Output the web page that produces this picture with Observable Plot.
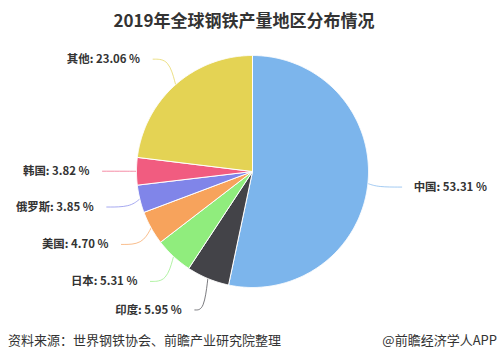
<!DOCTYPE html>
<html>
<head>
<meta charset="utf-8">
<script src="https://cdn.jsdelivr.net/npm/d3@7"></script>
<script src="https://cdn.jsdelivr.net/npm/@observablehq/plot@0.6"></script>
<style>
  html, body { margin: 0; padding: 0; background: #fff; }
  body { width: 500px; height: 360px; position: relative; overflow: hidden; font-family: "Noto Sans CJK SC", "Noto Sans", sans-serif; }
  #title { position: absolute; left: 0; top: 8px; width: 488px; text-align: center; font-size: 17px; font-weight: bold; color: #333; line-height: 24px; }
  #chart { position: absolute; left: 0; top: 38px; }
  #source { position: absolute; left: 8px; top: 330px; font-size: 13px; color: #333; line-height: 20px; }
  #brand { position: absolute; right: 3px; top: 330px; font-size: 13px; color: #333; line-height: 20px; }
</style>
</head>
<body>
<div id="title">2019年全球钢铁产量地区分布情况</div>
<div id="chart"></div>
<div id="source">资料来源：世界钢铁协会、前瞻产业研究院整理</div>
<div id="brand">@前瞻经济学人APP</div>
<script>
// Data
const regions = ["中国", "印度", "日本", "美国", "俄罗斯", "韩国", "其他"];
const shares = [53.31, 5.95, 5.31, 4.70, 3.85, 3.82, 23.06];
const palette = ["#7cb5ec", "#434348", "#90ed7d", "#f7a35c", "#8085e9", "#f15c80", "#e4d354"];

// Geometry (layout)
const W = 500, H = 290;
const cx = 252, cy = 133, r = 116, rl = 150;
const total = d3.sum(shares);
const pt = (a, rad) => [cx + rad * Math.sin(a), cy - rad * Math.cos(a)];

const slicePts = [];
const labels = [];
const connectors = [];
let acc = 0;
regions.forEach((name, i) => {
  const a0 = acc / total * 2 * Math.PI;
  acc += shares[i];
  const a1 = acc / total * 2 * Math.PI;
  const am = (a0 + a1) / 2;
  // slice polygon
  slicePts.push({name, x: cx, y: cy});
  const n = Math.max(2, Math.ceil((a1 - a0) / (Math.PI / 360)));
  for (let k = 0; k <= n; k++) {
    const [x, y] = pt(a0 + (a1 - a0) * k / n, r);
    slicePts.push({name, x, y});
  }
  slicePts.push({name, x: cx, y: cy});
  // label anchor and connector
  const [ax, ay] = pt(am, rl);
  const [ex, ey] = pt(am, r);
  const right = Math.sin(am) > 0;
  labels.push({name, x: ax, y: ay, right, text: `${name}: ${shares[i].toFixed(2)} %`});
  const bx = ex + (ax - ex) * 0.3;
  connectors.push({name, x: ax, y: ay}, {name, x: bx, y: ay}, {name, x: ex, y: ey});
});

const chart = Plot.plot({
  width: W,
  height: H,
  margin: 0,
  x: {domain: [0, W], range: [0, W], axis: null},
  y: {domain: [0, H], range: [0, H], axis: null},
  color: {domain: regions, range: palette},
  style: {fontFamily: "'Noto Sans CJK SC', sans-serif", background: "transparent"},
  marks: [
    Plot.line(connectors, {x: "x", y: "y", z: "name", stroke: "name", strokeWidth: 1, strokeOpacity: 0.7, curve: "basis"}),
    Plot.line(slicePts, {x: "x", y: "y", z: "name", fill: "name", stroke: "white", strokeWidth: 1, strokeLinejoin: "round", curve: "linear"}),
    Plot.text(labels.filter(d => !d.right), {x: "x", y: "y", text: "text", textAnchor: "end", dx: -13, fontSize: 11.4, fontWeight: "bold", fill: "#333"}),
    Plot.text(labels.filter(d => d.right), {x: "x", y: "y", text: "text", textAnchor: "start", dx: 12, fontSize: 11.4, fontWeight: "bold", fill: "#333"})
  ]
});
document.getElementById("chart").appendChild(chart);
</script>
</body>
</html>
